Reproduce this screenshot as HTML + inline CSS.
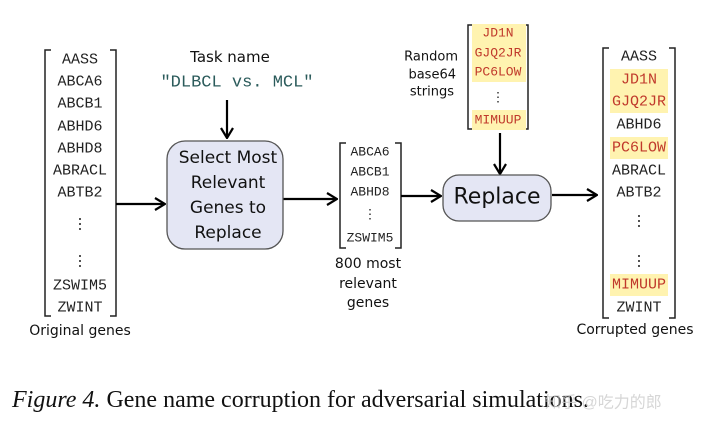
<!DOCTYPE html>
<html><head><meta charset="utf-8"><style>
body{margin:0;background:#fff;width:708px;height:434px;overflow:hidden}
svg text{dominant-baseline:central}
.m{font-family:"Liberation Mono",monospace;font-size:15px;fill:#222;text-anchor:middle}
.s{font-family:"DejaVu Sans",sans-serif;fill:#111;text-anchor:middle}
.r{fill:#c0392b}
</style></head><body>
<svg width="708" height="434" xmlns="http://www.w3.org/2000/svg">
<defs><marker id="a" markerWidth="12" markerHeight="14" refX="11" refY="7" orient="auto" markerUnits="userSpaceOnUse"><path d="M1,1 L11,7 L1,13" fill="none" stroke="#000" stroke-width="2.2"/></marker></defs>
<g fill="none" stroke="#222" stroke-width="1.5">
<path d="M51,50 H45 V316 H51 M110,50 H116 V316 H110"/>
<path d="M346,143 H340 V248 H346 M395,143 H401 V248 H395"/>
<path d="M474,25 H468 V129 H474 M522,25 H528 V129 H522"/>
<path d="M609,48 H603 V318 H609 M669,48 H675 V318 H669"/>
</g>
<g class="m">
<text x="80" y="60">AASS</text><text x="80" y="82">ABCA6</text><text x="80" y="104">ABCB1</text><text x="80" y="127">ABHD6</text><text x="80" y="149">ABHD8</text><text x="80" y="171">ABRACL</text><text x="80" y="193">ABTB2</text><text x="80" y="225">⋮</text><text x="80" y="262">⋮</text><text x="80" y="286">ZSWIM5</text><text x="80" y="308">ZWINT</text>
</g>
<text class="s" x="80" y="331" font-size="14">Original genes</text>
<text class="s" x="230" y="57" font-size="15">Task name</text>
<text class="m" x="237" y="83" style="fill:#2b5b5b;font-size:17px">"DLBCL vs. MCL"</text>
<g stroke="#000" stroke-width="2.2" marker-end="url(#a)">
<line x1="227" y1="100" x2="227" y2="138"/>
<line x1="116" y1="204" x2="165" y2="204"/>
<line x1="283" y1="199" x2="337" y2="199"/>
<line x1="401" y1="196" x2="441" y2="196"/>
<line x1="552" y1="195" x2="597" y2="195"/>
<line x1="500" y1="133" x2="500" y2="174"/>
</g>
<rect x="167" y="141" width="116" height="108" rx="18" fill="#e4e6f4" stroke="#555" stroke-width="1.3"/>
<g class="s" font-size="17"><text x="228" y="158">Select Most</text><text x="228" y="183">Relevant</text><text x="228" y="208">Genes to</text><text x="228" y="233">Replace</text></g>
<g class="m" style="font-size:13px"><text x="370" y="152">ABCA6</text><text x="370" y="172">ABCB1</text><text x="370" y="192">ABHD8</text><text x="370" y="215">⋮</text><text x="370" y="238">ZSWIM5</text></g>
<g class="s" font-size="14"><text x="368" y="264">800 most</text><text x="368" y="284">relevant</text><text x="368" y="303">genes</text></g>
<rect x="443" y="175" width="108" height="46" rx="16" fill="#e4e6f4" stroke="#555" stroke-width="1.3"/>
<text class="s" x="497" y="197" font-size="22">Replace</text>
<g class="s" font-size="13" style="text-anchor:end"><text x="458" y="57">Random</text><text x="456" y="75">base64</text><text x="454" y="92">strings</text></g>
<g fill="#fff3b0"><rect x="472" y="24" width="54" height="58"/><rect x="472" y="110" width="54" height="20"/>
<rect x="610" y="69" width="58" height="22"/><rect x="610" y="91" width="58" height="22"/><rect x="610" y="137" width="58" height="22"/><rect x="610" y="274" width="58" height="22"/></g>
<g class="m" style="font-size:13px"><text class="r" x="498" y="33">JD1N</text><text class="r" x="498" y="53">GJQ2JR</text><text class="r" x="498" y="72">PC6LOW</text><text x="498" y="98">⋮</text><text class="r" x="498" y="120">MIMUUP</text></g>
<g class="m"><text x="639" y="57">AASS</text><text class="r" x="639" y="80">JD1N</text><text class="r" x="639" y="102">GJQ2JR</text><text x="639" y="125">ABHD6</text><text class="r" x="639" y="148">PC6LOW</text><text x="639" y="171">ABRACL</text><text x="639" y="193">ABTB2</text><text x="639" y="222">⋮</text><text x="639" y="262">⋮</text><text class="r" x="639" y="285">MIMUUP</text><text x="639" y="308">ZWINT</text></g>
<text class="s" x="635" y="330" font-size="14">Corrupted genes</text>
<text x="12" y="400" font-family="Liberation Serif,serif" font-size="24" fill="#111"><tspan font-style="italic">Figure 4.</tspan> Gene name corruption for adversarial simulations.</text>
<text x="545" y="403" font-family="Liberation Sans,Noto Sans CJK SC,sans-serif" font-size="16" fill="#ccc" opacity="0.8">知乎 @吃力的郎</text>
</svg>
</body></html>
